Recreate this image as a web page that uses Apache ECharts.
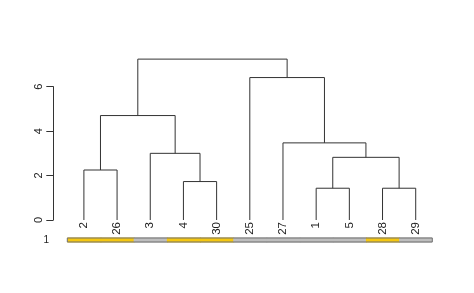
<!DOCTYPE html>
<html><head><meta charset="utf-8">
<script src="https://cdn.jsdelivr.net/npm/echarts@6/dist/echarts.min.js"></script>
<style>html,body{margin:0;padding:0;background:#fff}#c{width:474px;height:293px}</style>
</head><body><div id="c"></div>
<script>
// Leaves in dendrogram order
const leafLabels = ['2','26','3','4','30','25','27','1','5','28','29'];
// R-style merge table: negative = leaf position (1-based), positive = merge step
const mergeLeft  = [-1, -4, -3, 1, -8, -10, 5, -7, -6, 4];
const mergeRight = [-2, -5,  2, 3, -9, -11, 6,  7,  8, 9];
const mergeHeight = [2.25, 1.73, 3.0, 4.7, 1.43, 1.43, 2.82, 3.47, 6.41, 7.24];
// colour bar per leaf
const barColors = ['#F5C710','#F5C710','#BEBEBE','#F5C710','#F5C710','#BEBEBE','#BEBEBE','#BEBEBE','#BEBEBE','#F5C710','#BEBEBE'];
const barLabel = '1';
const yTicks = [0, 2, 4, 6];

// compute node positions
const nodeX = [], nodeH = [];
function pos(ref) {
  if (ref < 0) return [-ref, 0];
  return [nodeX[ref - 1], nodeH[ref - 1]];
}
const segData = [];
for (let i = 0; i < mergeHeight.length; i++) {
  const [xl, hl] = pos(mergeLeft[i]);
  const [xr, hr] = pos(mergeRight[i]);
  nodeX.push((xl + xr) / 2);
  nodeH.push(mergeHeight[i]);
  segData.push([xl, hl, xr, hr, mergeHeight[i]]);
}
const leafData = leafLabels.map((l, i) => [i + 1, 0]);
const barData = barColors.map((c, i) => [i + 1, -0.9]);

const lineColor = '#333';
const font = 'Liberation Sans, Arial, sans-serif';
const chart = echarts.init(document.getElementById('c'), null, {renderer: 'canvas'});
const unit = 22.222;
chart.setOption({
  animation: false,
  grid: [
    {left: 67.3, width: 365, top: 220 - 7.3 * unit, height: 8.6 * unit},
    {left: 53.3, width: 1, top: 220 - 6 * unit, height: 6 * unit}
  ],
  xAxis: [
    {type: 'value', gridIndex: 0, min: 0.5, max: leafLabels.length + 0.5, show: false},
    {type: 'value', gridIndex: 1, min: 0, max: 1, show: false}
  ],
  yAxis: [
    {type: 'value', gridIndex: 0, min: -1.3, max: 7.3, show: false},
    {type: 'value', gridIndex: 1, min: 0, max: 6, interval: 2, position: 'left',
     axisLine: {show: true, lineStyle: {color: lineColor, width: 1}},
     axisTick: {show: true, length: 7, lineStyle: {color: lineColor}},
     splitLine: {show: false},
     axisLabel: {rotate: 90, margin: 9, color: '#222', fontSize: 11, fontFamily: font,
                 formatter: v => yTicks.includes(v) ? String(v) : ''}}
  ],
  series: [
    {
      type: 'custom', xAxisIndex: 0, yAxisIndex: 0, data: segData, silent: true,
      renderItem: (params, api) => {
        const a = api.coord([api.value(0), api.value(1)]);
        const b = api.coord([api.value(0), api.value(4)]);
        const c = api.coord([api.value(2), api.value(4)]);
        const d = api.coord([api.value(2), api.value(3)]);
        return {type: 'polyline', shape: {points: [a, b, c, d]},
                style: {stroke: lineColor, lineWidth: 1, fill: null}};
      }
    },
    {
      type: 'custom', xAxisIndex: 0, yAxisIndex: 0, data: leafData, silent: true,
      renderItem: (params, api) => {
        const p = api.coord([api.value(0), api.value(1)]);
        return {type: 'text', x: p[0], y: p[1] + 2, rotation: Math.PI / 2,
                style: {text: leafLabels[params.dataIndex], align: 'right', verticalAlign: 'middle',
                        fill: '#222', fontSize: 11.5, fontFamily: font}};
      }
    },
    {
      type: 'custom', xAxisIndex: 0, yAxisIndex: 0, data: barData, silent: true,
      renderItem: (params, api) => {
        const l = api.coord([api.value(0) - 0.5, api.value(1)]);
        const r = api.coord([api.value(0) + 0.5, api.value(1)]);
        const last = params.dataIndex === barColors.length - 1;
        const children = [
          {type: 'rect', shape: {x: l[0], y: l[1] - 2.5, width: r[0] - l[0] + (last ? 0 : 1), height: 5},
           style: {fill: barColors[params.dataIndex]}, z2: 1}
        ];
        if (params.dataIndex === 0) {
          children.push({type: 'text', x: l[0] - 21, y: l[1],
            style: {text: barLabel, align: 'center', verticalAlign: 'middle', fill: '#222', fontSize: 10, fontFamily: font}});
        }
        if (last) {
          const first = api.coord([1 - 0.5, api.value(1)]);
          children.push({type: 'rect', shape: {x: first[0], y: l[1] - 2, width: r[0] - first[0], height: 4},
            style: {fill: null, stroke: '#707070', lineWidth: 1}, z2: 5});
        }
        return {type: 'group', children};
      }
    }
  ]
});
</script></body></html>
